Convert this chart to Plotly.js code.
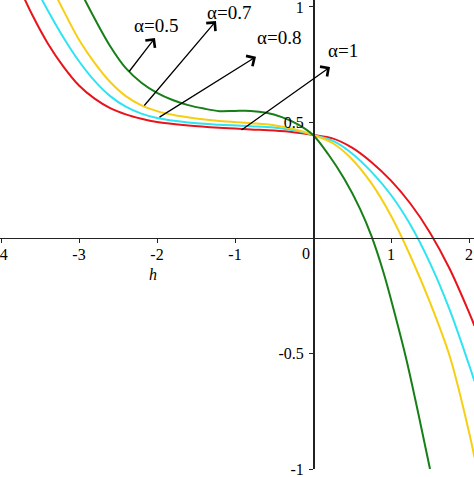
<!DOCTYPE html>
<html>
<head>
<meta charset="utf-8">
<script src="https://cdn.plot.ly/plotly-3.0.1.min.js"></script>
<style>html,body{margin:0;padding:0;background:#fff;}#chart{width:474px;height:477px;}</style>
</head>
<body>
<div id="chart"></div>
<script>
// Series data (h vs value)
const hRed   = [-3.8,-3.6,-3.4,-3.2,-3.0,-2.8,-2.6,-2.4,-2.2,-2.0,-1.6,-1.2,-0.8,-0.5,-0.25,0,0.25,0.5,0.75,1.0,1.25,1.5,1.75,2.0,2.07];
const yRed   = [1.11,0.966,0.842,0.742,0.66,0.603,0.562,0.535,0.516,0.502,0.487,0.477,0.470,0.465,0.458,0.446,0.431,0.391,0.328,0.248,0.148,0.023,-0.132,-0.322,-0.38];

const hCyan  = [-3.6,-3.4,-3.2,-3.0,-2.8,-2.6,-2.4,-2.2,-2.0,-1.6,-1.2,-0.8,-0.5,-0.25,0,0.25,0.5,0.75,1.0,1.25,1.5,1.75,2.0,2.07];
const yCyan  = [1.11,0.985,0.868,0.765,0.68,0.614,0.568,0.538,0.519,0.500,0.490,0.484,0.478,0.466,0.446,0.421,0.366,0.286,0.186,0.056,-0.109,-0.309,-0.549,-0.62];

const hGold  = [-3.4,-3.2,-3.0,-2.8,-2.6,-2.4,-2.2,-2.0,-1.8,-1.5,-1.2,-0.8,-0.5,-0.25,0,0.25,0.5,0.75,1.0,1.25,1.5,1.75,2.0,2.07];
const yGold  = [1.12,0.985,0.858,0.758,0.675,0.614,0.574,0.549,0.533,0.517,0.506,0.497,0.488,0.472,0.446,0.411,0.341,0.236,0.096,-0.079,-0.279,-0.509,-0.84,-0.95];

const hGreen = [-3.0,-2.8,-2.6,-2.4,-2.2,-2.0,-1.8,-1.6,-1.4,-1.2,-1.0,-0.8,-0.6,-0.4,-0.2,0,0.2,0.4,0.6,0.75,0.9,1.05,1.2,1.35,1.5];
const yGreen = [1.08,0.95,0.83,0.735,0.672,0.628,0.597,0.575,0.560,0.549,0.550,0.550,0.542,0.523,0.493,0.446,0.36,0.256,0.128,0.008,-0.145,-0.33,-0.53,-0.76,-1.0];

const xTickVals = [-4,-3,-2,-1,1,2];
const xTickText = ['-4','-3','-2','-1','1','2'];
const yTickVals = [-1,-0.5,0.5,1];
const yTickText = ['-1','-0.5','0.5','1'];

const labels = ['α=0.5','α=0.7','α=0.8','α=1'];
const labelX = [-2.01,-1.077,-0.436,0.385];
const labelY = [0.918,0.978,0.866,0.81];
const arrowTailX = [-2.372,-2.179,-1.987,-0.936];
const arrowTailY = [0.714,0.567,0.519,0.463];
const arrowHeadX = [-2.026,-1.244,-0.731,0.218];
const arrowHeadY = [0.866,0.939,0.784,0.740];

const colors = {red:'#e8141c', cyan:'#2ee4f2', gold:'#f7cf12', green:'#167f16'};

function tr(x,y,c){return {x:x,y:y,mode:'lines',type:'scatter',line:{color:c,width:2,shape:'spline',smoothing:1},hoverinfo:'skip',showlegend:false};}

const data = [tr(hRed,yRed,colors.red), tr(hCyan,yCyan,colors.cyan), tr(hGold,yGold,colors.gold), tr(hGreen,yGreen,colors.green)];

const font = {family:'Liberation Serif', size:16, color:'#000'};
const annotations = [];
for (let i=0;i<labels.length;i++){
  annotations.push({x:arrowHeadX[i],y:arrowHeadY[i],ax:arrowTailX[i],ay:arrowTailY[i],axref:'x',ayref:'y',xref:'x',yref:'y',
    text:'',showarrow:true,arrowhead:4,arrowsize:1.8,arrowwidth:1.3,arrowcolor:'#000'});
  annotations.push({x:labelX[i],y:labelY[i],xref:'x',yref:'y',text:labels[i],showarrow:false,
    font:{family:'Liberation Serif',size:19,color:'#000'},xanchor:'center',yanchor:'middle'});
}
annotations.push({x:0,y:0,xref:'x',yref:'y',text:'0',showarrow:false,font:font,xanchor:'right',yanchor:'top',xshift:-1,yshift:-5});
annotations.push({x:-2.05,y:-0.16,xref:'x',yref:'y',text:'<i>h</i>',showarrow:false,font:font,xanchor:'center',yanchor:'middle'});

const layout = {
  width:474,height:477,
  margin:{l:0,r:0,t:0,b:8,pad:0},
  paper_bgcolor:'#fff',plot_bgcolor:'#fff',
  showlegend:false,
  font:font,
  xaxis:{range:[-4.013,2.064],anchor:'free',position:0.4926,showline:true,linecolor:'#222',linewidth:1.5,
    zeroline:false,showgrid:false,ticks:'outside',ticklen:4,tickwidth:1,tickcolor:'#222',ticklabelstandoff:-3,
    tickmode:'array',tickvals:xTickVals,ticktext:xTickText,tickfont:font,automargin:false,fixedrange:true,ticklabeloverflow:'allow'},
  yaxis:{range:[-1,1.03],anchor:'free',position:0.6604,showline:true,linecolor:'#222',linewidth:1.5,
    zeroline:false,showgrid:false,ticks:'outside',ticklen:4,tickwidth:1,tickcolor:'#222',ticklabelstandoff:2,
    tickmode:'array',tickvals:yTickVals,ticktext:yTickText,tickfont:font,automargin:false,fixedrange:true,ticklabeloverflow:'allow'},
  annotations:annotations
};
Plotly.newPlot('chart',data,layout,{staticPlot:true,displayModeBar:false});
</script>
</body>
</html>
